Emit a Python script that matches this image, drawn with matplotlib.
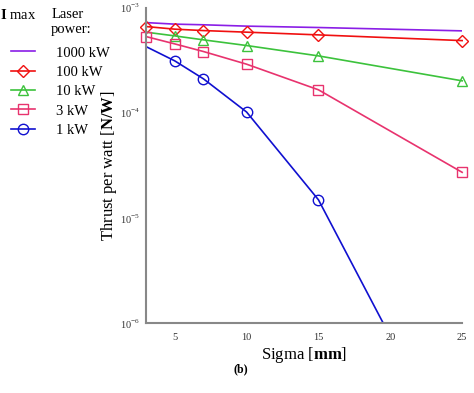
import matplotlib
matplotlib.use("Agg")
import matplotlib.pyplot as plt
from matplotlib.ticker import FixedLocator, NullLocator

plt.rcParams['font.family'] = ['Liberation Serif', 'DejaVu Serif']
plt.rcParams['mathtext.fontset'] = 'custom'
plt.rcParams['mathtext.rm'] = 'Liberation Serif'
plt.rcParams['mathtext.bf'] = 'Liberation Serif:bold'

# sigma values [mm]
sigma = [3, 5, 7, 10, 15, 25]
sigma_1kw = [3, 5, 7, 10, 15, 25]

# thrust per watt [N/W]
p1000 = [7.24e-4, 7.0e-4, 6.9e-4, 6.7e-4, 6.5e-4, 6.04e-4]
p100 = [6.64e-4, 6.27e-4, 6.08e-4, 5.87e-4, 5.53e-4, 4.88e-4]
p10 = [5.87e-4, 5.41e-4, 4.96e-4, 4.38e-4, 3.49e-4, 2.02e-4]
p3 = [5.33e-4, 4.54e-4, 3.84e-4, 2.91e-4, 1.66e-4, 2.72e-5]
p1 = [4.28e-4, 3.13e-4, 2.11e-4, 1.02e-4, 1.49e-5, 3.7e-8]

labels = ['1000 kW', '100 kW', '10 kW', '3 kW', '1 kW']
colors = ['#8a1ee6', '#f01010', '#3cc23c', '#e8336e', '#1010d0']

fig = plt.figure(figsize=(4.74, 3.93), dpi=100)
ax = fig.add_axes([0.308, 0.178, 0.667, 0.802])

lw = 1.2
ax.plot(sigma, p1000, color=colors[0], lw=lw, label=labels[0])
ax.plot(sigma, p100, color=colors[1], lw=lw, marker='D', ms=6, mfc='none',
        mew=1.0, label=labels[1], clip_on=False)
ax.plot(sigma, p10, color=colors[2], lw=lw, marker='^', ms=7.5, mfc='none',
        mew=1.0, markevery=[1, 2, 3, 4, 5], label=labels[2], clip_on=False)
ax.plot(sigma, p3, color=colors[3], lw=lw, marker='s', ms=7.5, mfc='none',
        mew=1.0, label=labels[3], clip_on=False)
ax.plot(sigma_1kw, p1, color=colors[4], lw=lw, marker='o', ms=7.5, mfc='none',
        mew=1.0, markevery=[1, 2, 3, 4], label=labels[4])

ax.set_yscale('log')
ax.set_xlim(3, 25)
ax.set_ylim(1e-6, 1e-3)
ax.xaxis.set_major_locator(FixedLocator([5, 10, 15, 20, 25]))
ax.yaxis.set_major_locator(FixedLocator([1e-6, 1e-5, 1e-4, 1e-3]))
ax.yaxis.set_minor_locator(NullLocator())
ax.tick_params(length=0, labelsize=7.5, colors='#333333')
ax.tick_params(axis='x', pad=7)
ax.tick_params(axis='y', pad=4)
ax.set_yticklabels([r'$10^{-6}$', r'$10^{-5}$', r'$10^{-4}$', r'$10^{-3}$'])

for s in ['top', 'right']:
    ax.spines[s].set_visible(False)
for s in ['left', 'bottom']:
    ax.spines[s].set_color('#888888')
    ax.spines[s].set_linewidth(1.5)

ax.set_xlabel(r'Sigma [$\mathbf{mm}$]', fontsize=12, labelpad=2)
ax.set_ylabel(r'Thrust per watt [$\mathbf{N/W}$]', fontsize=12)
ax.yaxis.set_label_coords(-0.118, 0.5)
ax.yaxis.label.set_va('center')
fig.text(0.507, 0.052, '(b)', fontsize=8.5, fontweight='bold', ha='center')

# legend area on the left
fig.text(0.0, 0.962, r'$\mathbf{I}$ max', fontsize=10.5, va='center')
fig.text(0.108, 0.962, 'Laser', fontsize=10.5, va='center')
fig.text(0.108, 0.925, 'power:', fontsize=10.5, va='center')
fig.legend(loc='upper left', bbox_to_anchor=(0.010, 0.897), frameon=False,
           fontsize=10.5, handlelength=1.7, handletextpad=1.4,
           labelspacing=0.42, borderaxespad=0)

fig.savefig('out.png', dpi=100)
